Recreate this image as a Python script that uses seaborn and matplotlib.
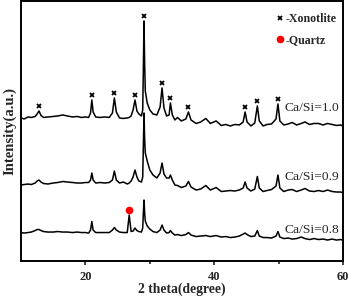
import seaborn as sns
import matplotlib.pyplot as plt
from matplotlib.lines import Line2D
import numpy as np

sns.set_style("ticks")
plt.rcParams['font.family'] = ['Liberation Serif', 'DejaVu Serif']

# 2 theta (degree) sampling points
two_theta = [10.0, 10.5, 11.1, 11.6, 12.2, 12.5, 12.8, 13.1, 13.5, 14.2,
             15.0, 15.7, 16.5, 17.2, 18.0, 18.7, 19.4, 20.0, 20.5, 20.8,
             21.0, 21.2, 21.6, 22.3, 23.0, 23.7, 24.2, 24.5, 24.8, 25.3,
             25.9, 26.5, 26.8, 27.1, 27.4, 27.7, 28.0, 28.3, 28.7, 28.9,
             29.0, 29.1, 29.2, 29.3, 29.6, 30.0, 30.5, 31.1, 31.6, 31.9,
             32.2, 32.6, 33.0, 33.2, 33.5, 33.9, 34.3, 34.9, 35.6, 36.0,
             36.4, 37.2, 37.9, 38.7, 39.4, 40.3, 41.1, 41.8, 42.5, 43.2,
             43.9, 44.5, 44.8, 45.1, 45.7, 46.3, 46.7, 47.0, 47.6, 48.2,
             48.9, 49.6, 49.9, 50.2, 50.8, 51.5, 52.1, 52.8, 53.5, 54.1,
             54.8, 55.5, 56.2, 56.9, 57.6, 58.3, 59.0, 59.6, 60.0]

# intensity (a.u.) for each sample
int_10 = [25, 24, 26, 25.5, 26.5, 29, 32, 27.5, 25.5, 26,
          26.5, 27, 28, 27, 26, 26.5, 25.5, 26, 25.5, 30,
          43, 31, 26, 25.5, 26, 25.5, 30, 45, 31, 25,
          24.5, 25, 25.5, 27, 33, 43, 32, 29, 27, 33,
          75, 122, 80, 52, 40, 33, 29, 28, 36, 55,
          35, 27, 28, 40, 28, 23, 25.5, 22, 24, 31,
          23, 19.5, 21, 24.5, 19.5, 22, 17.5, 18.5, 17, 18.5,
          18, 21, 31, 21, 17, 20, 37, 22, 17, 18.5,
          19, 24, 39, 22, 18, 19, 20.5, 18, 19.5, 21,
          18.5, 19.5, 19.5, 18, 19.5, 18.5, 17.5, 18, 17]

int_09 = [26, 26.5, 27, 26.5, 28, 30, 31, 29, 27.5, 27,
          28, 28.5, 29.5, 29, 28.5, 28, 28, 28.5, 28.5, 31,
          38, 31, 28, 28.5, 28, 28.5, 31, 40, 31, 28,
          29, 27, 28, 30, 34, 41, 34, 30, 29, 34,
          65, 98, 72, 58, 50, 41, 36, 33, 38, 48,
          37, 33, 33, 36, 31, 26, 25.5, 23.5, 25, 29.5,
          24, 21, 22, 25.5, 21, 23.5, 19.5, 20, 20.5, 20,
          21, 23, 29, 23, 20, 22, 34.5, 23, 19.5, 20.5,
          21.5, 25, 36, 23, 19.5, 21, 21.5, 19.5, 21, 22.5,
          20, 19.5, 20.5, 19.5, 21, 19.5, 19, 19, 18.5]

int_08 = [28.5, 28, 28.5, 29, 30.5, 31.5, 31.5, 30.5, 29.5, 29,
          29, 29.5, 29, 29, 28.5, 29, 28.5, 28.5, 28, 31,
          39.5, 31, 28.5, 28.5, 28.5, 28.5, 31, 33.5, 31, 29,
          28.5, 28.5, 46, 29.5, 30, 33, 30.5, 29.5, 29, 33,
          48, 61, 48, 40, 35, 32, 29.5, 28.5, 31, 36,
          31, 28, 28.5, 30.5, 28, 26, 26.5, 25.5, 26.5, 28.5,
          26, 24.5, 25, 25.5, 24.5, 25.5, 24, 24.5, 23.5, 24,
          25, 27, 28, 26.5, 24.5, 25, 30.5, 25, 23.5, 23.5,
          23, 25, 29.5, 24, 22.5, 23, 22, 22.5, 24, 22.5,
          21.5, 22.5, 21.5, 22, 21, 22, 21, 21.5, 21]

samples = ['Ca/Si=1.0', 'Ca/Si=0.9', 'Ca/Si=0.8']
xonotlite_peaks = [12.8, 21.0, 24.5, 27.7, 29.1, 31.9, 33.2, 36.0, 44.8, 46.7, 49.9]
quartz_peaks = [26.8]
major_ticks = [20, 40, 60]
minor_ticks = [30, 50]

curves = [int_10, int_09, int_08]
offsets = [118, 50, 0]
label_y = [35, 34, 31]

fig, ax = plt.subplots(figsize=(3.5, 2.97), dpi=100)
fig.subplots_adjust(left=0.06, right=0.98, bottom=0.121, top=0.997)

for name, vals, off, ly in zip(samples, curves, offsets, label_y):
    y = np.array(vals) + off
    sns.lineplot(x=two_theta, y=y, ax=ax, color='black', linewidth=1.1)
    ax.text(50.9, off + ly, name, fontsize=9.7, va='center', ha='left')

# peak markers
top = np.array(int_10) + offsets[0]
bot = np.array(int_08) + offsets[2]
xy = np.interp(xonotlite_peaks, two_theta, top) + 5
ax.plot(xonotlite_peaks, xy, ls='none', marker='x', color='black',
        markersize=3.2, markeredgewidth=1.3)
qy = np.interp(quartz_peaks, two_theta, bot) + 5
ax.plot(quartz_peaks, qy, ls='none', marker='o', color='red', markersize=4.5)

handles = [Line2D([], [], ls='none', marker='x', color='black', markersize=3.2, markeredgewidth=1.3),
           Line2D([], [], ls='none', marker='o', color='red', markersize=4.5)]
ax.legend(handles, ['-Xonotlite', '-Quartz'], loc='upper right', bbox_to_anchor=(1.015, 0.995),
          frameon=False, handlelength=0.6, handletextpad=0.25, labelspacing=0.75,
          prop={'weight': 'bold', 'size': 8.6})

ax.set_xlim(10, 60)
ax.set_ylim(0, 260)
ax.set_yticks([])
ax.set_xticks(major_ticks)
ax.set_xticklabels([str(t) for t in major_ticks], fontweight='bold')
ax.set_xticks(minor_ticks, minor=True)
ax.tick_params(axis='x', which='major', direction='out', length=3, width=1.2, labelsize=9, pad=4)
ax.tick_params(axis='x', which='minor', direction='out', length=2.5, width=1.2)
for s in ax.spines.values():
    s.set_visible(True)
    s.set_linewidth(1.4)
    s.set_color('black')

ax.set_xlabel('2 theta(degree)', fontsize=9.8, fontweight='bold', labelpad=0)
ax.set_ylabel('Intensity(a.u.)', fontsize=10.5, fontweight='bold', labelpad=3)

fig.savefig('out.png', dpi=100)
